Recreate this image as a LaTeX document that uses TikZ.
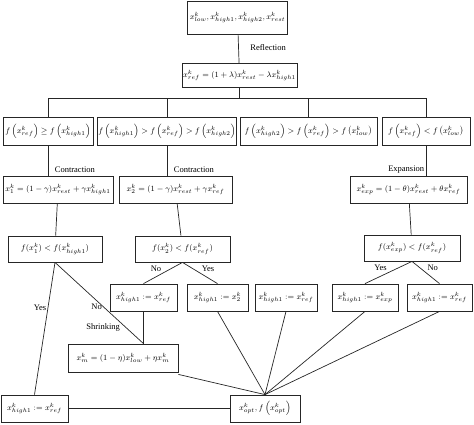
\documentclass[tikz,border=0pt]{standalone}
\usepackage{amsmath}
\usepackage{fontspec}
\setmainfont{Liberation Serif}
\usepackage{tikz}
\usetikzlibrary{positioning, calc}
\newcommand{\setto}{\mathrel{:=}}

\begin{document}
\begin{tikzpicture}[x=1pt, y=-1pt, line width=0.7pt, color=black!85,
    box/.style={draw, line width=0.8pt, inner sep=1pt, align=center, text=black, font=\fontsize{8.5}{10}\selectfont},
    lbl/.style={font=\fontsize{8.5}{10}\selectfont, text=black, inner sep=1.5pt}]
    \useasboundingbox (0, 0) rectangle (474, 424);
    % top and reflection
    \node[box, minimum width=100, minimum height=33] (top) at (237.5, 17.5) {$x^k_{low},x^k_{high1},x^k_{high2},x^k_{rest}$};
    \node[box, minimum width=115, minimum height=24] (refl) at (239.5, 75.5) {$x^k_{ref}=(1+\lambda)x^k_{rest}-\lambda x^k_{high1}$};
    \coordinate (bus) at (0, 98);
    % first row of tests
    \node[box, minimum width=90, minimum height=28] (b1) at (48, 131) {$f\left(x^k_{ref}\right)\geq f\left(x^k_{high1}\right)$};
    \node[box, minimum width=136, minimum height=28] (b2) at (167, 131) {$f\left(x^k_{high1}\right)>f\left(x^k_{ref}\right)>f\left(x^k_{high2}\right)$};
    \node[box, minimum width=137, minimum height=28] (b3) at (308.5, 131) {$f\left(x^k_{high2}\right)>f\left(x^k_{ref}\right)>f\left(x^k_{low}\right)$};
    \node[box, minimum width=88, minimum height=28] (b4) at (426, 131) {$f\left(x^k_{ref}\right)<f\left(x^k_{low}\right)$};
    % contraction / expansion
    \node[box, minimum width=110, minimum height=27] (c1) at (58, 189.5) {$x^k_1=(1-\gamma)x^k_{rest}+\gamma x^k_{high1}$};
    \node[box, minimum width=113, minimum height=27] (c2) at (175.5, 189.5) {$x^k_2=(1-\gamma)x^k_{rest}+\gamma x^k_{ref}$};
    \node[box, minimum width=117, minimum height=27] (ce) at (408.5, 189.5) {$x^k_{exp}=(1-\theta)x^k_{rest}+\theta x^k_{ref}$};
    % second row of tests
    \node[box, minimum width=94, minimum height=26] (t1) at (55, 249) {$f(x^k_1)<f(x^k_{high1})$};
    \node[box, minimum width=95, minimum height=26] (t2) at (182.5, 249) {$f(x^k_2)<f(x^k_{ref})$};
    \node[box, minimum width=96, minimum height=26] (te) at (412, 248) {$f(x^k_{exp})<f(x^k_{ref})$};
    % replacements
    \node[box, minimum width=67, minimum height=27] (r1) at (143.5, 297.5) {$x^k_{high1}\setto x^k_{ref}$};
    \node[box, minimum width=61, minimum height=27] (r2) at (217.5, 297.5) {$x^k_{high1}\setto x^k_2$};
    \node[box, minimum width=62, minimum height=27] (r3) at (286, 297.5) {$x^k_{high1}\setto x^k_{ref}$};
    \node[box, minimum width=66, minimum height=27] (r4) at (365, 297.5) {$x^k_{high1}\setto x^k_{exp}$};
    \node[box, minimum width=65, minimum height=27] (r5) at (439.5, 297.5) {$x^k_{high1}\setto x^k_{ref}$};
    \node[box, minimum width=110, minimum height=28] (shr) at (123, 358) {$x^k_m=(1-\eta)x^k_{low}+\eta x^k_m$};
    \node[box, minimum width=67, minimum height=27] (rl) at (34.5, 408.5) {$x^k_{high1}\setto x^k_{ref}$};
    \node[box, minimum width=70, minimum height=27] (fin) at (265, 408.5) {$x^k_{opt},f\left(x^k_{opt}\right)$};

    % connectors
    \draw (top) -- node[lbl, pos=0.45, right=10pt] {Reflection} (refl);
    \draw (refl.south) -- (refl.south |- bus);
    \draw (b1.north) -- (b1.north |- bus) -- (b4.north |- bus) -- (b4.north);
    \draw (b2.north) -- (b2.north |- bus);
    \draw (b3.north) -- (b3.north |- bus);
    \draw (b1.south) -- node[lbl, pos=0.8, right=5pt] {Contraction} (b1.south |- c1.north);
    \draw (b2.south) -- node[lbl, pos=0.8, right=5pt] {Contraction} (b2.south |- c2.north);
    \draw (b4.south) -- node[lbl, pos=0.8, left=0pt] {Expansion} (b4.south |- ce.north);
    \draw (c1) -- (t1);
    \draw (c2) -- (t2);
    \draw (ce) -- (te);
    \draw (t1.south) -- node[lbl, pos=0.34, left] {Yes} (rl.north);
    \coordinate (join) at (r1.south |- shr.north);
    \draw (t1.south) -- node[lbl, pos=0.55, left] {No} node[lbl, pos=0.8, left=4pt] {Shrinking} (join);
    \draw (r1) -- (join);
    \draw (t2.south) -- node[lbl, pos=0.5, above left] {No} (r1.north);
    \draw (t2.south) -- node[lbl, pos=0.5, above right] {Yes} (r2.north);
    \draw (te.south) -- node[lbl, pos=0.5, above left] {Yes} (r4.north);
    \draw (te.south) -- node[lbl, pos=0.5, above right] {No} (r5.north);
    \draw ([yshift=-2pt]shr.south east) -- (fin.north);
    \foreach \r in {r2, r3, r4, r5} {
        \draw (\r.south) -- (fin.north);
    }
    \draw (rl) -- (fin);
\end{tikzpicture}
\end{document}
